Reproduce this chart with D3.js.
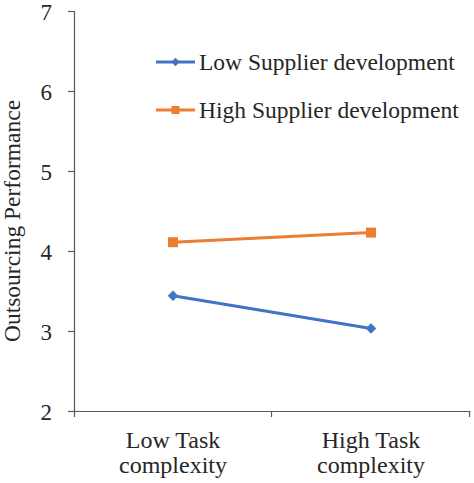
<!DOCTYPE html>
<html>
  <head>
    <script src="https://d3js.org/d3.v7.min.js"></script>
    <style>
      html,
      body {
        margin: 0;
        background: #fff;
      }
      text {
        font-family: "Liberation Serif", "Times New Roman", serif;
        fill: #262626;
      }
    </style>
  </head>
  <body>
    <div id="chart"></div>
    <script>
      const categories = ["Low Task\ncomplexity", "High Task\ncomplexity"];
      const lowSupplier = [3.44, 3.03];
      const highSupplier = [4.11, 4.23];
      const yTicks = [2, 3, 4, 5, 6, 7];

      const series = [
        { name: "Low Supplier development", values: lowSupplier, color: "#4472C4", marker: "diamond" },
        { name: "High Supplier development", values: highSupplier, color: "#ED7D31", marker: "square" },
      ];

      const width = 474;
      const height = 483;
      const margin = { top: 11, right: 4, bottom: 72, left: 74 };
      const font = '"Liberation Serif", "Times New Roman", serif';

      const svg = d3
        .select("#chart")
        .append("svg")
        .attr("width", width)
        .attr("height", height);

      const x = d3
        .scaleBand()
        .domain(categories)
        .range([margin.left, width - margin.right]);

      const y = d3
        .scaleLinear()
        .domain([2, 7])
        .range([height - margin.bottom, margin.top]);

      const axisColor = "#595959";

      // y axis
      const yAxis = svg
        .append("g")
        .attr("transform", `translate(${margin.left},0)`)
        .call(
          d3.axisLeft(y).tickValues(yTicks).tickFormat(d3.format("d")).tickSize(6).tickPadding(16)
        )
        .attr("font-family", font)
        .attr("font-size", 23);
      yAxis.select(".domain").attr("stroke", axisColor).attr("stroke-width", 1.2);
      yAxis.selectAll(".tick line").attr("stroke", axisColor).attr("stroke-width", 1.2);
      yAxis.selectAll(".tick text").attr("fill", "#262626").attr("dy", "0.35em");

      // x axis
      const xAxis = svg
        .append("g")
        .attr("transform", `translate(0,${y(2)})`)
        .call(d3.axisBottom(x).tickSize(0).tickFormat(""));
      xAxis.select(".domain").attr("stroke", axisColor).attr("stroke-width", 1.2);
      xAxis.selectAll(".tick").remove();

      // category separators
      const bounds = categories.map((c) => x(c)).concat([x.range()[1]]);
      svg
        .selectAll(".sep")
        .data(bounds)
        .enter()
        .append("line")
        .attr("x1", (d, i) => (i === 0 ? d + 0.5 : d - 0.5))
        .attr("x2", (d, i) => (i === 0 ? d + 0.5 : d - 0.5))
        .attr("y1", y(2))
        .attr("y2", y(2) + 6)
        .attr("stroke", axisColor)
        .attr("stroke-width", 1.2);

      // category labels
      categories.forEach((c) => {
        const t = svg
          .append("text")
          .attr("x", x(c) + x.bandwidth() / 2)
          .attr("y", y(2) + 37)
          .attr("text-anchor", "middle")
          .style("font-size", "24px");
        c.split("\n").forEach((line, i) => {
          t.append("tspan")
            .attr("x", x(c) + x.bandwidth() / 2)
            .attr("dy", i === 0 ? 0 : 25)
            .text(line);
        });
      });

      // y label
      svg
        .append("text")
        .attr("transform", `translate(20,${(y(2) + y(7)) / 2 + 10}) rotate(-90)`)
        .attr("text-anchor", "middle")
        .style("font-size", "23.5px")
        .text("Outsourcing Performance");

      const symbolFor = (size) => d3.symbol().type(d3.symbolSquare).size(size)();

      const cx = (i) => x(categories[i]) + x.bandwidth() / 2;

      series.forEach((s) => {
        svg
          .append("path")
          .datum(s.values)
          .attr("fill", "none")
          .attr("stroke", s.color)
          .attr("stroke-width", 3)
          .attr(
            "d",
            d3
              .line()
              .x((d, i) => cx(i))
              .y((d) => y(d))
          );

        svg
          .selectAll(null)
          .data(s.values)
          .enter()
          .append("path")
          .attr("d", symbolFor(s.marker === "diamond" ? 55 : 100))
          .attr("fill", s.color)
          .attr(
            "transform",
            (d, i) =>
              `translate(${cx(i)},${y(d)})` + (s.marker === "diamond" ? " rotate(45)" : "")
          );
      });

      // legend
      const legend = svg.append("g");
      series.forEach((s, i) => {
        const ly = 62 + i * 48;
        legend
          .append("line")
          .attr("x1", 156)
          .attr("x2", 195)
          .attr("y1", ly)
          .attr("y2", ly)
          .attr("stroke", s.color)
          .attr("stroke-width", 3);
        legend
          .append("path")
          .attr("d", symbolFor(s.marker === "diamond" ? 36 : 64))
          .attr("fill", s.color)
          .attr(
            "transform",
            `translate(175.5,${ly})` + (s.marker === "diamond" ? " rotate(45)" : "")
          );
        legend
          .append("text")
          .attr("x", 199)
          .attr("y", ly)
          .attr("dy", "0.35em")
          .style("font-size", "23.5px")
          .text(s.name);
      });
    </script>
  </body>
</html>
